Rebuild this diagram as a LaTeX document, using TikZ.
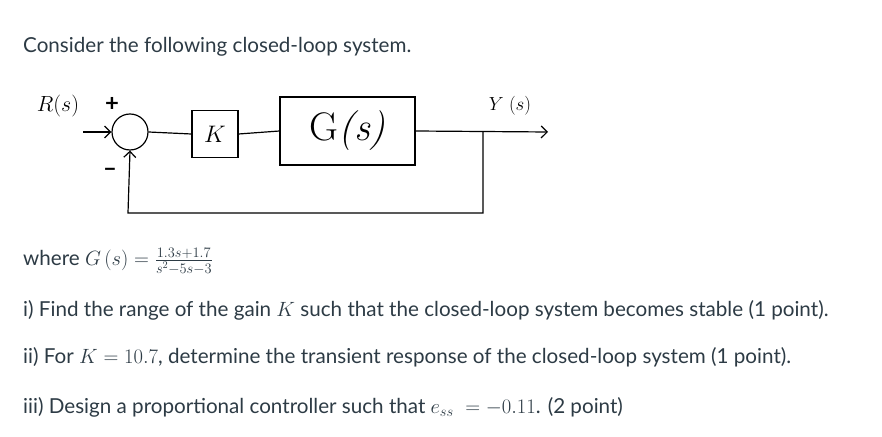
\documentclass[tikz,border=0pt]{standalone}
\usepackage{fix-cm}
\usepackage{amsmath}
\usepackage{fontspec}
\setmainfont{Lato}
\usetikzlibrary{arrows.meta}
\definecolor{txt}{HTML}{2D3B45}
\begin{document}
\begin{tikzpicture}[x=1bp,y=-1bp,
  txtnode/.style={anchor=base west,inner sep=0pt,text=txt,font=\fontsize{20.7}{24}\selectfont},
  blk/.style={draw,line width=1.2pt,inner sep=0pt},
  ln/.style={line width=1.2pt},
  arr/.style={ln,-{Straight Barb[length=6pt,width=12pt,line width=1.2pt]}},
  lab/.style={inner sep=0pt,font=\fontsize{22}{24}\selectfont}]
\useasboundingbox[fill=white] (0,0) rectangle (882,437);
\node[txtnode] (t1) at (23,53) {Consider the following closed-loop system.};
\node[draw,circle,line width=1.2pt,minimum size=36bp,inner sep=0pt] (sum) at (130,132) {};
\node[blk,minimum width=46bp,minimum height=47bp] (k) at (215,134) {\fontsize{24}{26}\selectfont$K$};
\node[blk,minimum width=135bp,minimum height=68bp] (g) at (347.5,131) {\fontsize{40}{42}\selectfont\fontspec{Latin Modern Roman}G\textit{(s)}};
\coordinate (in) at (83,132);
\coordinate (br) at (483,132);
\coordinate (out) at (548,132);
\coordinate (fb1) at (483,213);
\coordinate (fb2) at (128,213);
\draw[arr] (in) -- (sum.west);
\draw[ln] (sum.east) -- (k.west);
\draw[ln] (k.east) -- (g.west);
\draw[arr] (g.east) -- (out);
\draw[arr] (br) -- (fb1) -- (fb2) -- (sum.south);
\node[lab] (r) at (58,106) {$R(s)$};
\node[lab] (p) at (112,104) {\fontsize{24}{24}\selectfont\textbf{+}};
\node[lab] (m) at (110,172) {\fontsize{24}{24}\selectfont\textbf{--}};
\node[lab] (y) at (510,106) {\fontsize{19}{22}\selectfont$Y\;(s)$};
\node[txtnode] (t2) at (23,266) {where $G\left(s\right)=\frac{1.3s+1.7}{s^2-5s-3}$};
\node[txtnode] (t3) at (23,317) {i) Find the range of the gain $K$ such that the closed-loop system becomes stable (1 point).};
\node[txtnode] (t4) at (23,364) {ii) For $K=10.7$, determine the transient response of the closed-loop system (1 point).};
\node[txtnode] (t5) at (23,413) {iii) Design a proportional controller such that $e_{ss}\;=-0.11$. (2 point)};
\end{tikzpicture}
\end{document}
